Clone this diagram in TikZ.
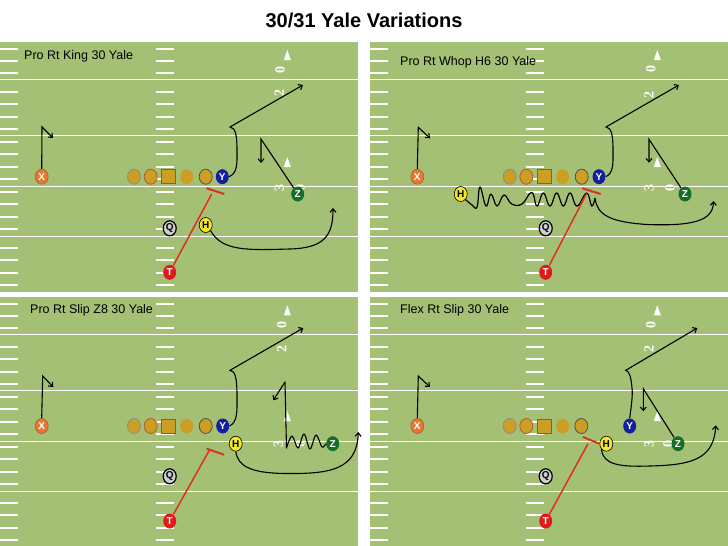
\documentclass[tikz,border=0pt]{standalone}
\usepackage{fontspec}
\setmainfont{Liberation Sans}
\newfontfamily\yardfont{Liberation Serif}
\usetikzlibrary{shapes.geometric,arrows.meta,calc}
\definecolor{fieldgreen}{RGB}{164,192,116}
\definecolor{gold}{RGB}{204,158,36}
\definecolor{lgray}{RGB}{140,140,140}
\definecolor{lbrown}{RGB}{176,90,50}
\definecolor{cgreen}{RGB}{50,140,40}
\definecolor{ldark}{RGB}{80,80,80}
\definecolor{xorange}{RGB}{230,120,50}
\definecolor{yblue}{RGB}{20,30,160}
\definecolor{zgreen}{RGB}{20,110,40}
\definecolor{tred}{RGB}{225,25,30}
\definecolor{hyellow}{RGB}{245,230,40}
\definecolor{qgray}{RGB}{205,205,205}
\definecolor{blockred}{RGB}{220,50,30}
\tikzset{
  pl/.style={ellipse,minimum width=13pt,minimum height=15pt,inner sep=0pt,
    font=\fontsize{10}{10}\selectfont\bfseries,text=white,line width=0.6pt},
  ln/.style={ellipse,minimum width=13pt,minimum height=15pt,inner sep=0pt,fill=gold,line width=0.8pt},
  cen/.style={rectangle,minimum width=14pt,minimum height=14pt,inner sep=0pt,fill=gold,draw=cgreen,line width=0.8pt},
  qb/.style={pl,fill=qgray,draw=black,line width=1.2pt,text=black},
  route/.style={line width=1.1pt,-{Straight Barb[length=3.5pt,width=6pt]}},
  block/.style={line width=1.5pt,blockred},
  bar/.style={line width=2pt,blockred},
  yard/.style={text=white,font=\yardfont\fontsize{14}{14}\selectfont\bfseries,rotate=90,inner sep=0pt},
  ptitle/.style={anchor=west,font=\fontsize{12.5}{12.5}\selectfont,inner sep=0pt},
  hash/.style={white,line width=2pt},
  yline/.style={white,line width=1pt}
}
\newcommand{\yardtri}[2]{\fill[white] (#1-3.5,#2+5) -- (#1,#2-5) -- (#1+3.5,#2+5) -- cycle;}
\begin{document}
\begin{tikzpicture}[x=1pt,y=-1pt]
\useasboundingbox (0,0) rectangle (728,546);
\fill[white] (0,0) rectangle (728,546);
\node[font=\fontsize{20}{20}\selectfont\bfseries] (title) at (364,20) {30/31 Yale Variations};
% fields
\foreach \px/\py/\ph in {0/42/250, 370/42/250, 0/297/249, 370/297/249}{
  \fill[fieldgreen] (\px,\py) rectangle ++(358,\ph);
  \foreach \ly in {37,93,144,194}{
    \draw[yline] (\px,\py+\ly) -- ++(358,0);
  }
  \foreach \hy in {7,19,31,50,62,75,87,100,112,125,137,150,162,175,187,206,218,231,243}{
    \draw[hash] (\px,\py+\hy) -- ++(18,0);
    \draw[hash] (\px+155.5,\py+\hy) -- ++(18,0);
  }
}
% ================= Panel 1
\node[ptitle] (t1) at (24,56.7) {Pro Rt King 30 Yale};
\yardtri{287.3}{55}
\yardtri{287.3}{162}
\node[yard] (n11) at (280,70) {0};
\node[yard] (n12) at (279.3,93.3) {2};
\node[yard] (n13) at (279.3,188.3) {3};
\node[yard] (n14) at (300,188.3) {0};
\node[pl,fill=xorange,draw=lbrown] (X1) at (41.7,176.7) {X};
\draw[route] (X1.north) -- (42,127) -- (53,138);
\node[ln,draw=lgray] (L11) at (134,176.7) {};
\node[ln,draw=lbrown] (L12) at (150.7,176.7) {};
\node[cen] (C1) at (168.7,176.7) {};
\node[ln] (L14) at (186.7,176.7) {};
\node[ln,draw=ldark] (L15) at (205.7,176.7) {};
\node[pl,fill=yblue] (Y1) at (222.3,176.7) {Y};
\draw[route] (Y1.east) .. controls (238,173) and (237,162) .. (237,150) .. controls (237,133) and (235,128) .. (230,127) -- (303,85);
\node[pl,fill=zgreen] (Z1) at (297.7,194) {Z};
\draw[route] (Z1) -- (261,139) -- (261,163);
\node[qb] (Q1) at (169.7,228.3) {Q};
\node[pl,fill=hyellow,draw=black,text=black] (H1) at (205.7,225) {H};
\draw[route] (H1.south east) .. controls (222,252) and (250,250) .. (290,249) .. controls (325,248) and (333,235) .. (333,208);
\node[pl,fill=tred] (T1) at (169.7,272.3) {T};
\coordinate (B1) at (211.7,194);
\draw[block] (T1) -- (B1);
\draw[bar] (206.7,188.3) -- (224.3,194);
% ================= Panel 2
\node[ptitle] (t2) at (400,62.7) {Pro Rt Whop H6 30 Yale};
\yardtri{657.3}{55}
\yardtri{657.3}{162}
\node[yard] (n21) at (650.7,69.3) {0};
\node[yard] (n22) at (649,95) {2};
\node[yard] (n23) at (649,188.3) {3};
\node[yard] (n24) at (670,188.3) {0};
\node[pl,fill=xorange,draw=lbrown] (X2) at (417.3,176.7) {X};
\draw[route] (X2.north) -- (418.3,127.3) -- (430,138.3);
\node[ln,draw=lgray] (L21) at (509.7,176.7) {};
\node[ln,draw=lbrown] (L22) at (526.3,176.7) {};
\node[cen] (C2) at (544.3,176.7) {};
\node[ln] (L24) at (562.7,176.7) {};
\node[ln,draw=ldark] (L25) at (581.7,176.7) {};
\node[pl,fill=yblue] (Y2) at (599,176.7) {Y};
\draw[route] (Y2.east) .. controls (614,173) and (613,162) .. (613,150) .. controls (613,133) and (611,128) .. (606,127) -- (679,85);
\node[pl,fill=zgreen] (Z2) at (685,194) {Z};
\draw[route] (Z2) -- (649,139.3) -- (649,162.7);
\node[qb] (Q2) at (545.7,228.3) {Q};
\node[pl,fill=hyellow,draw=black,text=black] (H2) at (460.7,194) {H};
\draw[line width=1.2pt,line join=round] plot[smooth,tension=0.7] coordinates {(H2.south east) (472,205) (477,207) (480,187) (486,206) (491,194) (497,206) (504,195) (511.7,204) (522,204) (531.7,192.3) (537,206) (543.3,193) (550,206) (556.7,193) (563.3,206) (570,193) (577,206) (586.7,193) (591.7,206) (595,198)} coordinate (S2);
\draw[route] (S2) .. controls (597,215) and (610,222) .. (647,224.5) .. controls (690,226) and (713,222) .. (713.5,201);
\node[pl,fill=tred] (T2) at (545.7,272.3) {T};
\coordinate (B2) at (586.7,193.3);
\draw[block] (T2) -- (B2);
\draw[bar] (582.3,188.3) -- (600.7,194);
% ================= Panel 3
\node[ptitle] (t3) at (30,310.3) {Pro Rt Slip Z8 30 Yale};
\yardtri{287.3}{310.3}
\yardtri{287.3}{416}
\node[yard] (n31) at (281.7,325.3) {0};
\node[yard] (n32) at (281.7,348.7) {2};
\node[yard] (n33) at (278.3,443.7) {3};
\node[yard] (n34) at (300,443.7) {0};
\node[pl,fill=xorange,draw=lbrown] (X3) at (41.7,426) {X};
\draw[route] (X3.north) -- (42.7,376) -- (53.3,387);
\node[ln,draw=lgray] (L31) at (134,426) {};
\node[ln,draw=lbrown] (L32) at (150.7,426) {};
\node[cen] (C3) at (168.7,426) {};
\node[ln] (L34) at (186.7,426) {};
\node[ln,draw=ldark] (L35) at (205.7,426) {};
\node[pl,fill=yblue] (Y3) at (222.7,426) {Y};
\draw[route] (Y3.east) .. controls (238,422) and (237,410) .. (237,396) .. controls (237,377) and (235,371) .. (230,370.3) -- (303.3,328);
\node[pl,fill=zgreen] (Z3) at (332.7,443.7) {Z};
\draw[route,line join=round] plot[smooth,tension=0.6] coordinates {(Z3.west) (322,447) (316,435) (310,449) (304,434) (298,448) (292,436) (286.5,448)} -- (285,382) -- (273.3,400.3);
\node[qb] (Q3) at (169.7,476.3) {Q};
\node[pl,fill=hyellow,draw=black,text=black] (H3) at (235.7,443.7) {H};
\draw[route] (H3.south) .. controls (238,466) and (250,473) .. (285,473.5) .. controls (330,474) and (357,470) .. (358.3,432);
\node[pl,fill=tred] (T3) at (169.7,521) {T};
\coordinate (B3) at (209.3,450.3);
\draw[block] (T3) -- (B3);
\draw[bar] (206.7,448.7) -- (224,454.7);
% ================= Panel 4
\node[ptitle] (t4) at (400,310.3) {Flex Rt Slip 30 Yale};
\yardtri{657.3}{310.3}
\yardtri{657.3}{416}
\node[yard] (n41) at (650.7,324.7) {0};
\node[yard] (n42) at (649,349.3) {2};
\node[yard] (n43) at (649,443.7) {3};
\node[yard] (n44) at (668,443.7) {0};
\node[pl,fill=xorange,draw=lbrown] (X4) at (417.3,426) {X};
\draw[route] (X4.north) -- (418.3,376) -- (430,387);
\node[ln,draw=lgray] (L41) at (509.7,426) {};
\node[ln,draw=lbrown] (L42) at (526.3,426) {};
\node[cen] (C4) at (544.3,426) {};
\node[ln] (L44) at (562.7,426) {};
\node[ln,draw=ldark] (L45) at (581.3,426) {};
\node[pl,fill=yblue] (Y4) at (629.7,426) {Y};
\draw[route] (Y4.north) .. controls (631,408) and (633,395) .. (632,388) .. controls (631,376) and (629,371) .. (625.7,370.3) -- (697.3,328);
\node[pl,fill=zgreen] (Z4) at (678,443.7) {Z};
\draw[route] (Z4) -- (643.3,388.7) -- (643.3,411.3);
\node[qb] (Q4) at (545.7,476.3) {Q};
\node[pl,fill=hyellow,draw=black,text=black] (H4) at (606.3,443.7) {H};
\draw[route] (H4.south west) .. controls (603,465) and (620,467) .. (650,466) .. controls (690,465) and (714,460) .. (715.7,425.3);
\node[pl,fill=tred] (T4) at (545.7,521) {T};
\coordinate (B4) at (588,443.7);
\draw[block] (T4) -- (B4);
\draw[bar] (583,437) -- (H4.west);
\end{tikzpicture}
\end{document}
